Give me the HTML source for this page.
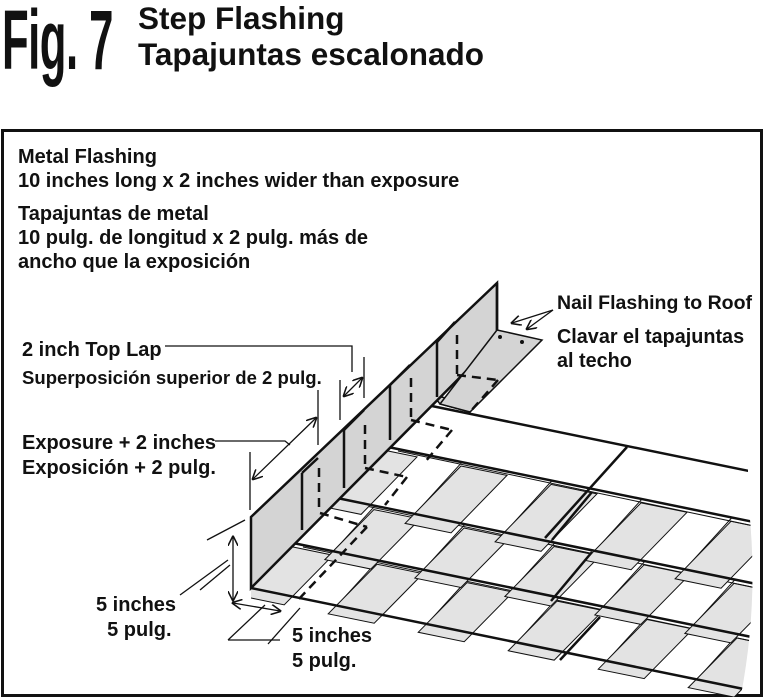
<!DOCTYPE html><html><head><style>
body{margin:0;width:764px;height:697px;background:#fff;overflow:hidden;position:relative;font-family:"Liberation Sans",sans-serif;font-weight:bold;color:#111}
.t{position:absolute;white-space:nowrap;transform-origin:0 0}
</style></head><body>
<div class="t" style="left:2px;top:-8px;font-size:84px;transform:scaleX(.52);letter-spacing:-1px">Fig. 7</div>
<div class="t" style="left:138px;top:0px;font-size:31.5px;line-height:36px">Step Flashing<br>Tapajuntas escalonado</div>
<div style="position:absolute;left:1px;top:129px;width:756px;height:562px;border:3px solid #111"></div>
<div class="t" style="left:18px;top:145px;font-size:20px;line-height:24px;transform:scaleX(1.0)">Metal Flashing<br>10 inches long x 2 inches wider than exposure</div>
<div class="t" style="left:18px;top:202px;font-size:20px;line-height:24px;transform:scaleX(1.0)">Tapajuntas de metal<br>10 pulg. de longitud x 2 pulg. más de<br>ancho que la exposición</div>
<div class="t" style="left:22px;top:339px;font-size:20px">2 inch Top Lap</div>
<div class="t" style="left:22px;top:368px;font-size:18px;transform:scaleX(1.03)">Superposición superior de 2 pulg.</div>
<div class="t" style="left:22px;top:431px;font-size:20px;line-height:25px">Exposure + 2 inches<br>Exposición + 2 pulg.</div>
<div class="t" style="left:96px;top:593px;font-size:20px;line-height:25px">5 inches<br>&nbsp;&nbsp;5 pulg.</div>
<div class="t" style="left:292px;top:624px;font-size:20px;line-height:25px">5 inches<br>5 pulg.</div>
<div class="t" style="left:557px;top:292px;font-size:19.5px">Nail Flashing to Roof</div>
<div class="t" style="left:557px;top:325px;font-size:20px;line-height:24px;transform:scaleX(.99)">Clavar el tapajuntas<br>al techo</div>
<svg id="s" width="764" height="697" style="position:absolute;left:0;top:0" fill="none" stroke="#111">
<defs><marker id="a" markerWidth="8" markerHeight="8" refX="7" refY="4" orient="auto-start-reverse"><path d="M0,0 L8,4 L0,8" stroke="#111" stroke-width="1.2" fill="none"/></marker>
<clipPath id="c"><path d="M251,588 L430,405 L748,405 L748,500 Q760,600 740,700 L251,700 Z"/></clipPath></defs>
<g id="roof" clip-path="url(#c)"></g>
<polygon points="433,395 475,405 470,412 440,404" fill="#d4d4d4" stroke="#111" stroke-width="1.5"/>
<polygon points="251,517 497,283 497,340 251,588" fill="#d4d4d4" stroke="#111" stroke-width="2.5"/>
<polygon points="497,330 542,340 470,412 440,404" fill="#d4d4d4" stroke="#111" stroke-width="1.5"/>
<line x1="497" y1="283" x2="497" y2="330" stroke-width="2.5"/>
<circle cx="500" cy="337" r="1.5" fill="#111"/><circle cx="522" cy="342" r="1.5" fill="#111"/>
<g stroke-width="2.5">
<line x1="302" y1="473" x2="302" y2="530"/><line x1="344" y1="430" x2="344" y2="488"/><line x1="390" y1="385" x2="390" y2="440"/><line x1="437" y1="342" x2="437" y2="397"/>
<line x1="302" y1="473" x2="318" y2="458"/><line x1="344" y1="430" x2="364" y2="410"/><line x1="390" y1="385" x2="410" y2="365"/><line x1="437" y1="342" x2="455" y2="322"/>
</g>
<g stroke-width="2.5" stroke-dasharray="9,6">
<line x1="319" y1="468" x2="319" y2="512"/><line x1="365" y1="425" x2="365" y2="468"/><line x1="411" y1="378" x2="411" y2="420"/><line x1="457" y1="335" x2="457" y2="375"/>
<line x1="320" y1="513" x2="367" y2="527"/><line x1="365" y1="468" x2="407" y2="477"/><line x1="411" y1="420" x2="452" y2="430"/><line x1="457" y1="375" x2="498" y2="380"/>
<line x1="367" y1="527" x2="298" y2="600"/><line x1="407" y1="477" x2="385" y2="505"/><line x1="452" y1="430" x2="425" y2="462"/><line x1="498" y1="380" x2="470" y2="412"/>
</g>
<g stroke-width="1.3">
<polyline points="165,346 352,346 352,372"/>
<line x1="340" y1="380" x2="340" y2="420"/><line x1="364" y1="357" x2="364" y2="398"/>
<line x1="344" y1="396" x2="362" y2="378" marker-start="url(#a)" marker-end="url(#a)"/>
<polyline points="215,441 285,441 290,445"/>
<line x1="318" y1="390" x2="318" y2="445"/><line x1="250" y1="452" x2="250" y2="510"/>
<line x1="253" y1="479" x2="316" y2="418" marker-start="url(#a)" marker-end="url(#a)"/>
<line x1="233" y1="537" x2="233" y2="600" marker-start="url(#a)" marker-end="url(#a)"/>
<line x1="233" y1="603" x2="280" y2="611" marker-start="url(#a)" marker-end="url(#a)"/>
<line x1="207" y1="540" x2="245" y2="520"/><line x1="200" y1="590" x2="230" y2="565"/>
<line x1="180" y1="595" x2="228" y2="560"/><line x1="228" y1="640" x2="265" y2="605"/><line x1="268" y1="644" x2="300" y2="608"/><line x1="228" y1="640" x2="280" y2="640"/>
<line x1="512" y1="323" x2="553" y2="310" marker-start="url(#a)"/><line x1="527" y1="329" x2="553" y2="310" marker-start="url(#a)"/>
</g>
</svg>
<script>
var g=document.getElementById('roof'),NS='http://www.w3.org/2000/svg';
function el(n,a){var e=document.createElementNS(NS,n);for(var k in a)e.setAttribute(k,a[k]);g.appendChild(e);return e;}
var L=[[251,588],[293,543],[337,498],[388,447],[427,405]],S=0.205;
function y(i,x){return L[i][1]+S*(x-L[i][0]);}
var offs=[0,340,300,260];
for(var k=1;k<=3;k++){
 var dy=y(k-1,0)-y(k,0); var dx=-dy*0.91;
 for(var x=offs[k]+(k*37)%90-90; x<800; x+=90){
  var w=46,t=4;
  var p=[[x,y(k,x)+t],[x+w,y(k,x+w)+t],[x+w+dx,y(k,x+w)+dy],[x+dx,y(k,x)+dy]];
  el('polygon',{points:p.map(function(q){return q.join(',')}).join(' '),fill:'#e3e3e3',stroke:'#111','stroke-width':1});
  el('line',{x1:x+w+45,y1:y(k,x+w+45),x2:x+w+45+dx,y2:y(k,x+w+45)+dy,'stroke-width':1});
 }
 el('line',{x1:L[k][0]+10,y1:L[k][1]+4,x2:760,y2:y(k,760)+4,'stroke-width':1});
}
for(var i=0;i<5;i++) el('line',{x1:L[i][0],y1:L[i][1],x2:760,y2:y(i,760),'stroke-width':2.5});
[[627,447,545,538],[592,492,552,540],[592,552,551,601],[600,617,560,660]].forEach(function(a){el('line',{x1:a[0],y1:a[1],x2:a[2],y2:a[3],'stroke-width':2.5});});
</script>
</body></html>
